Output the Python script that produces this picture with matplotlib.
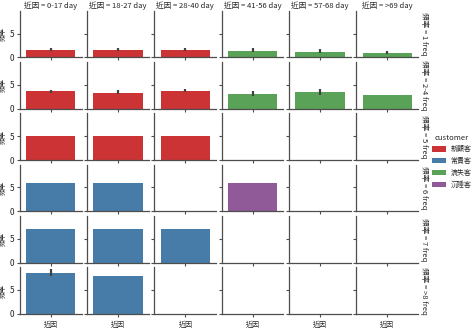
import numpy as np
import matplotlib
matplotlib.use("Agg")
import matplotlib.pyplot as plt
from matplotlib.patches import Patch
import seaborn as sns

plt.rcParams["font.family"] = ["Noto Sans CJK TC", "DejaVu Sans"]

# facet levels
recency = ["0-17 day", "18-27 day", "28-40 day", "41-56 day", "57-68 day", ">69 day"]
frequency = ["1 freq", "2-4 freq", "5 freq", "6 freq", "7 freq", ">8 freq"]
customers = ["新顧客", "常貴客", "流失客", "沉睡客"]

nan = np.nan
# mean 頻率 per (frequency row, recency column)
mean_1 = [1.55, 1.62, 1.62, 1.42, 1.22, 1.01]
mean_2 = [3.63, 3.36, 3.77, 3.15, 3.50, 2.95]
mean_5 = [5, 5, 5, nan, nan, nan]
mean_6 = [6, 6, nan, 6, nan, nan]
mean_7 = [7, 7, 7, nan, nan, nan]
mean_8 = [8.6, 8.0, nan, nan, nan, nan]

# customer group of each cell (-1 = no data)
group_1 = [0, 0, 0, 2, 2, 2]
group_2 = [0, 0, 0, 2, 2, 2]
group_5 = [0, 0, 0, -1, -1, -1]
group_6 = [1, 1, -1, 3, -1, -1]
group_7 = [1, 1, 1, -1, -1, -1]
group_8 = [1, 1, -1, -1, -1, -1]

# confidence interval bounds
ci_lo_1 = [1.28, 1.35, 1.35, 1.10, 0.85, 0.75]
ci_hi_1 = [1.95, 2.00, 2.00, 2.00, 1.70, 1.30]
ci_lo_2 = [3.30, 3.08, 3.49, 2.74, 2.80, nan]
ci_hi_2 = [3.98, 3.84, 4.18, 3.70, 4.20, nan]
ci_lo_8 = [7.9, nan, nan, nan, nan, nan]
ci_hi_8 = [9.3, nan, nan, nan, nan, nan]
no_ci = [nan] * 6

means = [mean_1, mean_2, mean_5, mean_6, mean_7, mean_8]
groups = [group_1, group_2, group_5, group_6, group_7, group_8]
ci_lo = [ci_lo_1, ci_lo_2, no_ci, no_ci, no_ci, ci_lo_8]
ci_hi = [ci_hi_1, ci_hi_2, no_ci, no_ci, no_ci, ci_hi_8]

palette = [sns.desaturate(c, 0.75) for c in sns.color_palette("Set1", 4)]
spine_col = "0.3"
text_col = "0.15"
fs = 5

fig, axes = plt.subplots(6, 6, figsize=(4.74, 3.29), dpi=100, sharex=True, sharey=True)
fig.subplots_adjust(left=0.042, right=0.882, top=0.967, bottom=0.046,
                    wspace=0.09, hspace=0.1)

for i in range(6):
    for j in range(6):
        ax = axes[i, j]
        g = groups[i][j]
        if g >= 0:
            ax.bar(0, means[i][j], width=0.8, color=palette[g])
            if not np.isnan(ci_lo[i][j]):
                ax.plot([0, 0], [ci_lo[i][j], ci_hi[i][j]], color="0.26",
                        lw=1.6, solid_capstyle="butt")
        for s in ["top", "right"]:
            ax.spines[s].set_visible(False)
        for s in ["left", "bottom"]:
            ax.spines[s].set_color(spine_col)
            ax.spines[s].set_linewidth(0.9)
        ax.tick_params(colors=spine_col, labelcolor=text_col, labelsize=fs + 1,
                       length=2.5, width=0.8, pad=1.5)
        ax.set_xticks([0])
        ax.set_xticklabels([""])
        ax.set_yticks([0, 5])
        if i == 0:
            ax.set_title("近因 = " + recency[j], fontsize=fs + 0.5, color=text_col, pad=2)
        if j == 0:
            ax.set_ylabel("頻率", fontsize=fs, color=text_col, labelpad=2)
        if i == 5:
            ax.set_xlabel("近因", fontsize=fs, color=text_col, labelpad=1)
        if j == 5:
            ax.text(1.035, 0.5, "頻率 = " + frequency[i], transform=ax.transAxes,
                    rotation=270, ha="left", va="center", fontsize=fs + 0.5,
                    color=text_col)

axes[0, 0].set_xlim(-0.5, 0.5)
axes[0, 0].set_ylim(0, 9.75)

handles = [Patch(facecolor=c, label=n) for c, n in zip(palette, customers)]
leg = fig.legend(handles=handles, title="customer", loc="center left",
                 bbox_to_anchor=(0.912, 0.51), frameon=False, fontsize=fs,
                 title_fontsize=fs + 0.5, handlelength=2.0, handleheight=0.8,
                 labelspacing=0.55, borderpad=0, handletextpad=0.6,
                 borderaxespad=0)
for t in leg.get_texts():
    t.set_color(text_col)
leg.get_title().set_color(text_col)

fig.savefig("out.png", dpi=100)
